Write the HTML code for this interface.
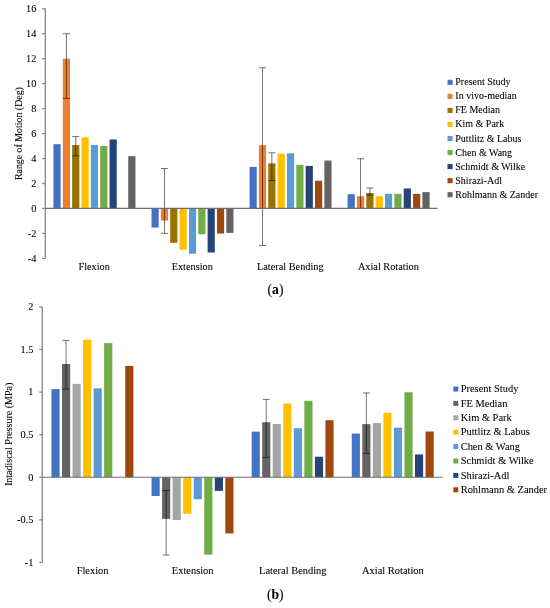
<!DOCTYPE html>
<html><head><meta charset="utf-8"><title>Range of Motion and Intradiscal Pressure</title>
<style>
html,body{margin:0;padding:0;background:#fff;}
body{width:550px;height:608px;overflow:hidden;}
svg{display:block;filter:blur(0.3px);}
text{fill:#000;stroke:#000;stroke-width:0.08px;font-family:"Liberation Serif", "Times New Roman", serif;}
</style></head><body>
<svg width="550" height="608" viewBox="0 0 550 608">
<rect x="53.45" y="144.18" width="7.2" height="64.27" fill="#4472C4"/>
<rect x="62.8" y="58.69" width="7.2" height="149.76" fill="#ED7D31"/>
<rect x="72.15" y="145.05" width="7.2" height="63.4" fill="#997300"/>
<rect x="81.5" y="137.31" width="7.2" height="71.14" fill="#FFC000"/>
<rect x="90.85" y="145.05" width="7.2" height="63.4" fill="#5B9BD5"/>
<rect x="100.2" y="146.05" width="7.2" height="62.4" fill="#70AD47"/>
<rect x="109.55" y="139.44" width="7.2" height="69.01" fill="#264478"/>
<rect x="128.25" y="156.16" width="7.2" height="52.29" fill="#636363"/>
<rect x="151.5" y="208.45" width="7.2" height="19.09" fill="#4472C4"/>
<rect x="160.85" y="208.45" width="7.2" height="12.11" fill="#ED7D31"/>
<rect x="170.2" y="208.45" width="7.2" height="34.32" fill="#997300"/>
<rect x="179.55" y="208.45" width="7.2" height="41.31" fill="#FFC000"/>
<rect x="188.9" y="208.45" width="7.2" height="45.3" fill="#5B9BD5"/>
<rect x="198.25" y="208.45" width="7.2" height="25.83" fill="#70AD47"/>
<rect x="207.6" y="208.45" width="7.2" height="44.05" fill="#264478"/>
<rect x="216.95" y="208.45" width="7.2" height="25.08" fill="#9E480E"/>
<rect x="226.3" y="208.45" width="7.2" height="24.46" fill="#636363"/>
<rect x="249.55" y="166.89" width="7.2" height="41.56" fill="#4472C4"/>
<rect x="258.9" y="145.18" width="7.2" height="63.27" fill="#ED7D31"/>
<rect x="268.25" y="163.4" width="7.2" height="45.05" fill="#997300"/>
<rect x="277.6" y="153.66" width="7.2" height="54.79" fill="#FFC000"/>
<rect x="286.95" y="153.29" width="7.2" height="55.16" fill="#5B9BD5"/>
<rect x="296.3" y="164.77" width="7.2" height="43.68" fill="#70AD47"/>
<rect x="305.65" y="165.89" width="7.2" height="42.56" fill="#264478"/>
<rect x="315" y="180.74" width="7.2" height="27.71" fill="#9E480E"/>
<rect x="324.35" y="160.53" width="7.2" height="47.92" fill="#636363"/>
<rect x="347.6" y="194.22" width="7.2" height="14.23" fill="#4472C4"/>
<rect x="356.95" y="196.22" width="7.2" height="12.23" fill="#ED7D31"/>
<rect x="366.3" y="192.97" width="7.2" height="15.48" fill="#997300"/>
<rect x="375.65" y="196.22" width="7.2" height="12.23" fill="#FFC000"/>
<rect x="385" y="193.85" width="7.2" height="14.6" fill="#5B9BD5"/>
<rect x="394.35" y="193.85" width="7.2" height="14.6" fill="#70AD47"/>
<rect x="403.7" y="188.48" width="7.2" height="19.97" fill="#264478"/>
<rect x="413.05" y="193.85" width="7.2" height="14.6" fill="#9E480E"/>
<rect x="422.4" y="192.1" width="7.2" height="16.35" fill="#636363"/>
<path d="M66.4 33.73V98.38M62.9 33.73H69.9M62.9 98.38H69.9" stroke="rgba(0,0,0,0.55)" stroke-width="1.0" fill="none"/>
<path d="M75.75 136.57V155.91M72.25 136.57H79.25M72.25 155.91H79.25" stroke="rgba(0,0,0,0.55)" stroke-width="1.0" fill="none"/>
<path d="M164.45 168.51V233.41M160.95 168.51H167.95M160.95 233.41H167.95" stroke="rgba(0,0,0,0.55)" stroke-width="1.0" fill="none"/>
<path d="M262.5 67.8V245.52M259 67.8H266M259 245.52H266" stroke="rgba(0,0,0,0.55)" stroke-width="1.0" fill="none"/>
<path d="M271.85 152.79V180.49M268.35 152.79H275.35M268.35 180.49H275.35" stroke="rgba(0,0,0,0.55)" stroke-width="1.0" fill="none"/>
<path d="M360.55 158.78V208.45M357.05 158.78H364.05M357.05 208.45H364.05" stroke="rgba(0,0,0,0.55)" stroke-width="1.0" fill="none"/>
<path d="M369.9 187.98V195.22M366.4 187.98H373.4M366.4 195.22H373.4" stroke="rgba(0,0,0,0.55)" stroke-width="1.0" fill="none"/>
<path d="M45.3 208.45H437.6" stroke="#6e6e6e" stroke-width="1.2"/>
<path d="M45.3 8.77V258.37" stroke="#868686" stroke-width="1.3"/>
<path d="M42.1 8.77H45.3" stroke="#868686" stroke-width="1.3"/>
<text x="36.4" y="12.37" text-anchor="end" font-size="10.3">16</text>
<path d="M42.1 33.73H45.3" stroke="#868686" stroke-width="1.3"/>
<text x="36.4" y="37.33" text-anchor="end" font-size="10.3">14</text>
<path d="M42.1 58.69H45.3" stroke="#868686" stroke-width="1.3"/>
<text x="36.4" y="62.29" text-anchor="end" font-size="10.3">12</text>
<path d="M42.1 83.65H45.3" stroke="#868686" stroke-width="1.3"/>
<text x="36.4" y="87.25" text-anchor="end" font-size="10.3">10</text>
<path d="M42.1 108.61H45.3" stroke="#868686" stroke-width="1.3"/>
<text x="36.4" y="112.21" text-anchor="end" font-size="10.3">8</text>
<path d="M42.1 133.57H45.3" stroke="#868686" stroke-width="1.3"/>
<text x="36.4" y="137.17" text-anchor="end" font-size="10.3">6</text>
<path d="M42.1 158.53H45.3" stroke="#868686" stroke-width="1.3"/>
<text x="36.4" y="162.13" text-anchor="end" font-size="10.3">4</text>
<path d="M42.1 183.49H45.3" stroke="#868686" stroke-width="1.3"/>
<text x="36.4" y="187.09" text-anchor="end" font-size="10.3">2</text>
<path d="M42.1 208.45H45.3" stroke="#868686" stroke-width="1.3"/>
<text x="36.4" y="212.05" text-anchor="end" font-size="10.3">0</text>
<path d="M42.1 233.41H45.3" stroke="#868686" stroke-width="1.3"/>
<text x="36.4" y="237.01" text-anchor="end" font-size="10.3">-2</text>
<path d="M42.1 258.37H45.3" stroke="#868686" stroke-width="1.3"/>
<text x="36.4" y="261.97" text-anchor="end" font-size="10.3">-4</text>
<text x="94.2" y="270.4" text-anchor="middle" font-size="10.3">Flexion</text>
<text x="192.25" y="270.4" text-anchor="middle" font-size="10.3">Extension</text>
<text x="290.3" y="270.4" text-anchor="middle" font-size="10.3">Lateral Bending</text>
<text x="388.35" y="270.4" text-anchor="middle" font-size="10.3">Axial Rotation</text>
<text transform="translate(22.4 133.6) rotate(-90)" text-anchor="middle" font-size="9.9">Range of Motion (Deg)</text>
<rect x="447.5" y="79.75" width="5.1" height="5.1" fill="#4472C4"/>
<text x="455.3" y="85.3" font-size="10.0">Present Study</text>
<rect x="447.5" y="93.8" width="5.1" height="5.1" fill="#ED7D31"/>
<text x="455.3" y="99.35" font-size="10.0">In vivo-median</text>
<rect x="447.5" y="107.85" width="5.1" height="5.1" fill="#997300"/>
<text x="455.3" y="113.4" font-size="10.0">FE Median</text>
<rect x="447.5" y="121.9" width="5.1" height="5.1" fill="#FFC000"/>
<text x="455.3" y="127.45" font-size="10.0">Kim &amp; Park</text>
<rect x="447.5" y="135.95" width="5.1" height="5.1" fill="#5B9BD5"/>
<text x="455.3" y="141.5" font-size="10.0">Puttlitz &amp; Labus</text>
<rect x="447.5" y="150" width="5.1" height="5.1" fill="#70AD47"/>
<text x="455.3" y="155.55" font-size="10.0">Chen &amp; Wang</text>
<rect x="447.5" y="164.05" width="5.1" height="5.1" fill="#264478"/>
<text x="455.3" y="169.6" font-size="10.0">Schmidt &amp; Wilke</text>
<rect x="447.5" y="178.1" width="5.1" height="5.1" fill="#9E480E"/>
<text x="455.3" y="183.65" font-size="10.0">Shirazi-Adl</text>
<rect x="447.5" y="192.15" width="5.1" height="5.1" fill="#636363"/>
<text x="455.3" y="197.7" font-size="10.0">Rohlmann &amp; Zander</text>
<text x="275.5" y="293.6" text-anchor="middle" font-size="15" transform="translate(275.5 0) scale(0.91 1) translate(-275.5 0)">(<tspan font-weight="bold">a</tspan>)</text>
<rect x="51.45" y="389.12" width="8.15" height="88.13" fill="#4472C4"/>
<rect x="61.99" y="364" width="8.15" height="113.25" fill="#636363"/>
<rect x="72.53" y="383.84" width="8.15" height="93.41" fill="#A5A5A5"/>
<rect x="83.07" y="339.65" width="8.15" height="137.6" fill="#FFC000"/>
<rect x="93.61" y="388.27" width="8.15" height="88.98" fill="#5B9BD5"/>
<rect x="104.15" y="343.14" width="8.15" height="134.11" fill="#70AD47"/>
<rect x="125.23" y="365.87" width="8.15" height="111.38" fill="#9E480E"/>
<rect x="151.55" y="477.25" width="8.15" height="18.73" fill="#4472C4"/>
<rect x="162.09" y="477.25" width="8.15" height="41.64" fill="#636363"/>
<rect x="172.63" y="477.25" width="8.15" height="42.75" fill="#A5A5A5"/>
<rect x="183.17" y="477.25" width="8.15" height="36.53" fill="#FFC000"/>
<rect x="193.71" y="477.25" width="8.15" height="21.97" fill="#5B9BD5"/>
<rect x="204.25" y="477.25" width="8.15" height="77.4" fill="#70AD47"/>
<rect x="214.79" y="477.25" width="8.15" height="13.62" fill="#264478"/>
<rect x="225.33" y="477.25" width="8.15" height="56.2" fill="#9E480E"/>
<rect x="251.65" y="431.61" width="8.15" height="45.64" fill="#4472C4"/>
<rect x="262.19" y="422.24" width="8.15" height="55.01" fill="#636363"/>
<rect x="272.73" y="424.03" width="8.15" height="53.22" fill="#A5A5A5"/>
<rect x="283.27" y="403.51" width="8.15" height="73.74" fill="#FFC000"/>
<rect x="293.81" y="428.2" width="8.15" height="49.05" fill="#5B9BD5"/>
<rect x="304.35" y="400.79" width="8.15" height="76.46" fill="#70AD47"/>
<rect x="314.89" y="456.73" width="8.15" height="20.52" fill="#264478"/>
<rect x="325.43" y="420.2" width="8.15" height="57.05" fill="#9E480E"/>
<rect x="351.75" y="433.57" width="8.15" height="43.68" fill="#4472C4"/>
<rect x="362.29" y="424.12" width="8.15" height="53.13" fill="#636363"/>
<rect x="372.83" y="423.09" width="8.15" height="54.16" fill="#A5A5A5"/>
<rect x="383.37" y="412.79" width="8.15" height="64.46" fill="#FFC000"/>
<rect x="393.91" y="427.69" width="8.15" height="49.56" fill="#5B9BD5"/>
<rect x="404.45" y="392.27" width="8.15" height="84.98" fill="#70AD47"/>
<rect x="414.99" y="454.43" width="8.15" height="22.82" fill="#264478"/>
<rect x="425.53" y="431.52" width="8.15" height="45.73" fill="#9E480E"/>
<path d="M66.06 340.41V389.12M62.56 340.41H69.56M62.56 389.12H69.56" stroke="rgba(0,0,0,0.55)" stroke-width="1.0" fill="none"/>
<path d="M166.16 490.53V555.08M162.66 490.53H169.66M162.66 555.08H169.66" stroke="rgba(0,0,0,0.55)" stroke-width="1.0" fill="none"/>
<path d="M266.26 399.34V457.5M262.76 399.34H269.76M262.76 457.5H269.76" stroke="rgba(0,0,0,0.55)" stroke-width="1.0" fill="none"/>
<path d="M366.36 392.95V453.41M362.86 392.95H369.86M362.86 453.41H369.86" stroke="rgba(0,0,0,0.55)" stroke-width="1.0" fill="none"/>
<path d="M42.3 477.25H442.4" stroke="#6e6e6e" stroke-width="1.2"/>
<path d="M42.3 306.95V562.4" stroke="#868686" stroke-width="1.3"/>
<path d="M39.3 306.95H42.3" stroke="#868686" stroke-width="1.3"/>
<text x="33.4" y="310.25" text-anchor="end" font-size="10.3">2</text>
<path d="M39.3 349.52H42.3" stroke="#868686" stroke-width="1.3"/>
<text x="33.4" y="352.82" text-anchor="end" font-size="10.3">1.5</text>
<path d="M39.3 392.1H42.3" stroke="#868686" stroke-width="1.3"/>
<text x="33.4" y="395.4" text-anchor="end" font-size="10.3">1</text>
<path d="M39.3 434.68H42.3" stroke="#868686" stroke-width="1.3"/>
<text x="33.4" y="437.98" text-anchor="end" font-size="10.3">0.5</text>
<path d="M39.3 477.25H42.3" stroke="#868686" stroke-width="1.3"/>
<text x="33.4" y="480.55" text-anchor="end" font-size="10.3">0</text>
<path d="M39.3 519.83H42.3" stroke="#868686" stroke-width="1.3"/>
<text x="33.4" y="523.12" text-anchor="end" font-size="10.3">-0.5</text>
<path d="M39.3 562.4H42.3" stroke="#868686" stroke-width="1.3"/>
<text x="33.4" y="565.7" text-anchor="end" font-size="10.3">-1</text>
<text x="92.6" y="574.4" text-anchor="middle" font-size="10.45">Flexion</text>
<text x="192.7" y="574.4" text-anchor="middle" font-size="10.45">Extension</text>
<text x="292.8" y="574.4" text-anchor="middle" font-size="10.45">Lateral Bending</text>
<text x="392.9" y="574.4" text-anchor="middle" font-size="10.45">Axial Rotation</text>
<text transform="translate(12.2 434.4) rotate(-90)" text-anchor="middle" font-size="10.0">Intadiscal Pressure (MPa)</text>
<rect x="453.3" y="386.5" width="5" height="5" fill="#4472C4"/>
<text x="460.7" y="392.2" font-size="10.45">Present Study</text>
<rect x="453.3" y="400.9" width="5" height="5" fill="#636363"/>
<text x="460.7" y="406.6" font-size="10.45">FE Median</text>
<rect x="453.3" y="415.3" width="5" height="5" fill="#A5A5A5"/>
<text x="460.7" y="421" font-size="10.45">Kim &amp; Park</text>
<rect x="453.3" y="429.7" width="5" height="5" fill="#FFC000"/>
<text x="460.7" y="435.4" font-size="10.45">Puttlitz &amp; Labus</text>
<rect x="453.3" y="444.1" width="5" height="5" fill="#5B9BD5"/>
<text x="460.7" y="449.8" font-size="10.45">Chen &amp; Wang</text>
<rect x="453.3" y="458.5" width="5" height="5" fill="#70AD47"/>
<text x="460.7" y="464.2" font-size="10.45">Schmidt &amp; Wilke</text>
<rect x="453.3" y="472.9" width="5" height="5" fill="#264478"/>
<text x="460.7" y="478.6" font-size="10.45">Shirazi-Adl</text>
<rect x="453.3" y="487.3" width="5" height="5" fill="#9E480E"/>
<text x="460.7" y="493" font-size="10.45">Rohlmann &amp; Zander</text>
<text x="275.3" y="599.5" text-anchor="middle" font-size="15" transform="translate(275.3 0) scale(0.91 1) translate(-275.3 0)">(<tspan font-weight="bold">b</tspan>)</text>
</svg>
</body></html>
